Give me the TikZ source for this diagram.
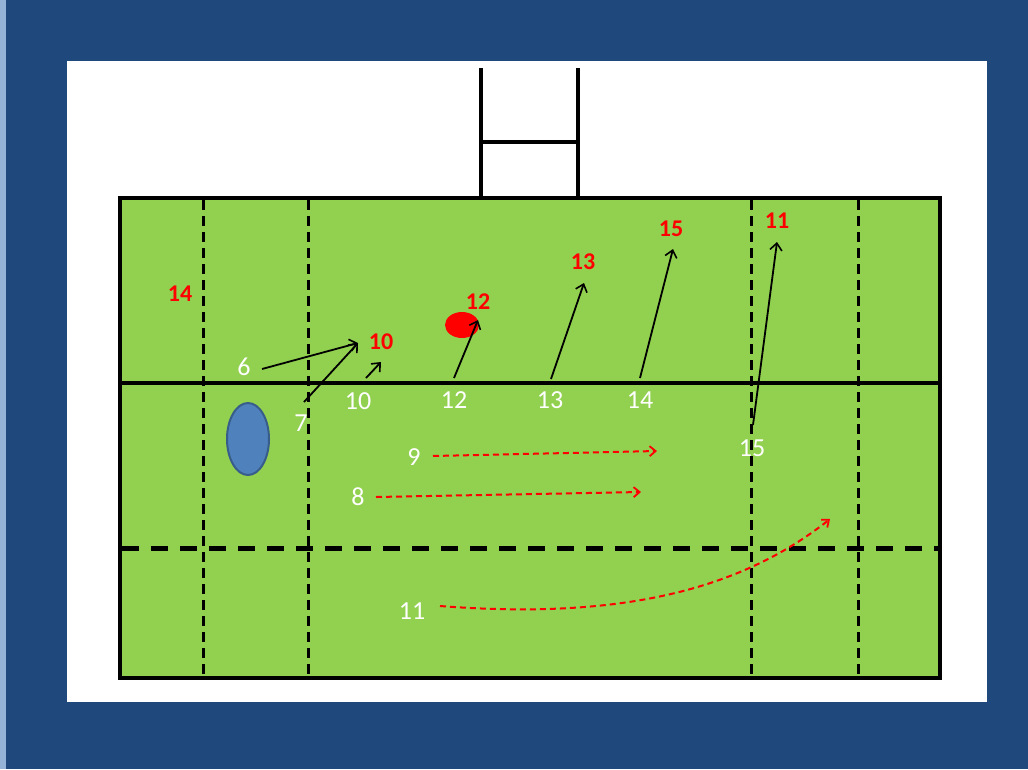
\documentclass[tikz,border=0pt]{standalone}
\usepackage{fontspec}
\setmainfont{Carlito}
\usepackage{tikz}
\usetikzlibrary{arrows.meta}

\definecolor{frameblue}{HTML}{1F497D}
\definecolor{edgeblue}{HTML}{95B3D7}
\definecolor{pitch}{HTML}{92D050}
\definecolor{ballblue}{HTML}{4F81BD}
\definecolor{ballrim}{HTML}{385D8A}

\tikzset{
  player/.style={text=white, font=\fontsize{26}{30}\selectfont, inner sep=0pt},
  rival/.style={text=red, font=\fontsize{24}{28}\selectfont\bfseries, inner sep=0pt},
  run/.style={-{Straight Barb[length=7pt,width=12pt,line width=1.6pt]}, line width=1.8pt},
  support/.style={-{Straight Barb[length=6pt,width=10pt,line width=1.8pt]}, red, line width=2pt, dash pattern=on 6pt off 4pt},
  zone/.style={line width=3pt, dash pattern=on 10pt off 6pt},
}

\begin{document}
\begin{tikzpicture}[x=1pt,y=-1pt]
\useasboundingbox (0,0) rectangle (1028,769);
\fill[frameblue] (0,0) rectangle (1028,769);
\fill[edgeblue] (0,0) rectangle (6,769);
\fill[white] (67,61) rectangle (987,702);

% goal posts
\draw[line width=3.5pt] (481,68) -- (481,198);
\draw[line width=3.5pt] (578,68) -- (578,198);
\draw[line width=3.5pt] (481,142) -- (578,142);

% pitch
\filldraw[fill=pitch, line width=3.5pt] (120,198) rectangle (940,678);
\foreach \x in {203,308,751,858}
\draw[zone] (\x,200) -- (\x,676);
\draw[line width=3.5pt] (120,383) -- (940,383);
\draw[line width=5pt, dash pattern=on 17pt off 12pt] (122,548) -- (938,548);

% balls
\fill[red] (462,325) ellipse (17 and 13);
\filldraw[fill=ballblue, draw=ballrim, line width=2pt] (248,439) ellipse (21 and 36);

% attackers
\node[player] (p6) at (244,367) {6};
\node[player] (p7) at (301,423) {7};
\node[player] (p10) at (358,401) {10};
\node[player] (p12) at (454,400) {12};
\node[player] (p13) at (550,400) {13};
\node[player] (p14) at (640,400) {14};
\node[player] (p15) at (752,448) {15};
\node[player] (p9) at (414,457) {9};
\node[player] (p8) at (358,497) {8};
\node[player] (p11) at (412,611) {11};

% defenders
\node[rival] (d14) at (180,294) {14};
\node[rival] (d10) at (381,342) {10};
\node[rival] (d12) at (478,302) {12};
\node[rival] (d13) at (583,262) {13};
\node[rival] (d15) at (671,229) {15};
\node[rival] (d11) at (777,221) {11};

% run lines
\coordinate (s6) at (262,369);
\coordinate (s7) at (304,402);
\coordinate (t10) at (358,343);
\coordinate (s10) at (366,378);
\coordinate (e10) at (381,362);
\coordinate (s12) at (454,378);
\coordinate (t12) at (478,320);
\coordinate (s13) at (551,379);
\coordinate (t13) at (584,283);
\coordinate (s14) at (640,378);
\coordinate (t15) at (673,249);
\coordinate (s15) at (753,425);
\coordinate (t11) at (777,242);
\draw[run] (s6) -- (t10);
\draw[run] (s7) -- (t10);
\draw[run] (s10) -- (e10);
\draw[run] (s12) -- (t12);
\draw[run] (s13) -- (t13);
\draw[run] (s14) -- (t15);
\draw[run] (s15) -- (t11);

% support lines
\coordinate (s9) at (433,456);
\coordinate (e9) at (657,451);
\coordinate (s8) at (376,497);
\coordinate (e8) at (641,492);
\coordinate (s11) at (440,606);
\coordinate (e11) at (830,519);
\draw[support] (s9) -- (e9);
\draw[support] (s8) -- (e8);
\draw[support] (s11) .. controls (620,620) and (740,590) .. (e11);
\end{tikzpicture}
\end{document}
